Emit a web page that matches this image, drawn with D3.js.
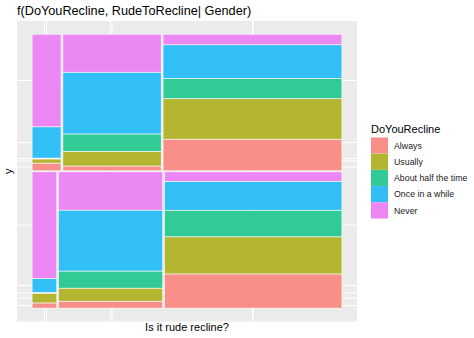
<!DOCTYPE html>
<html>
<head>
<meta charset="utf-8">
<script src="https://cdn.jsdelivr.net/npm/d3@7"></script>
<style>
  body { margin: 0; background: #fff; }
  text { font-family: "Liberation Sans", Arial, sans-serif; }
</style>
</head>
<body>
<svg id="chart" width="474" height="338"></svg>
<script>
// categories
const genders = ["Male", "Female"];              // top row, bottom row
const rudeLevels = ["Yes, very rude", "Yes, somewhat rude", "No, not rude at all"];
const reclineLevels = ["Always", "Usually", "About half the time", "Once in a while", "Never"];
const reclineColors = ["#F8766D", "#A3A500", "#00BF7D", "#00B0F6", "#E76BF3"];

// counts per gender, per rude level, per recline level (Always..Never)
const countsTop = [
  [2, 1, 0, 9, 27],
  [4, 14, 17, 62, 38],
  [57, 74, 36, 61, 18]
];
const countsBottom = [
  [1, 2, 0, 3, 24],
  [6, 12, 16, 59, 37],
  [56, 61, 43, 47, 15]
];
const countsByGender = [countsTop, countsBottom];

const svg = d3.select("#chart");
const panel = {left: 17, right: 357, top: 21, bottom: 321.5};

const x = d3.scaleLinear().domain([-0.05, 1.05]).range([panel.left, panel.right]);
const y = d3.scaleLinear().domain([-0.05, 1.05]).range([panel.bottom, panel.top]);

const colGap = 0.008, rowGap = 0.006, segGap = 0.003;

// build tiles
let tiles = [];
let colCenters = [];
let firstColCenters = [];
const rowH = (1 - rowGap) / 2;
countsByGender.forEach(function(cols, gi) {
  const y1 = gi == 0 ? 1 : rowH;       // top of row
  const y0 = y1 - rowH;
  const totals = cols.map(c => d3.sum(c));
  const grand = d3.sum(totals);
  const usableW = 1 - colGap * (cols.length - 1);
  let cx = 0;
  cols.forEach(function(c, ci) {
    const w = usableW * totals[ci] / grand;
    colCenters.push(cx + w / 2);
    const usableH = rowH - segGap * (c.length - 1);
    let cy = y0;
    c.forEach(function(v, ri) {
      const h = usableH * v / totals[ci];
      tiles.push({gender: genders[gi], rude: rudeLevels[ci], recline: reclineLevels[ri],
                  x0: cx, x1: cx + w, y0: cy, y1: cy + h, color: reclineColors[ri]});
      if (ci == 0) firstColCenters.push(cy + h / 2);
      cy += h + segGap;
    });
    cx += w + colGap;
  });
});

// panel background
svg.append("rect")
  .attr("x", panel.left).attr("y", panel.top)
  .attr("width", panel.right - panel.left).attr("height", panel.bottom - panel.top)
  .attr("fill", "#EBEBEB");

// grid lines
svg.append("g").selectAll("line").data(colCenters).join("line")
  .attr("x1", d => x(d)).attr("x2", d => x(d))
  .attr("y1", panel.top).attr("y2", panel.bottom)
  .attr("stroke", "#fff").attr("stroke-width", 1);
svg.append("g").selectAll("line").data(firstColCenters).join("line")
  .attr("y1", d => y(d)).attr("y2", d => y(d))
  .attr("x1", panel.left).attr("x2", panel.right)
  .attr("stroke", "#fff").attr("stroke-width", 1);

// light backing behind each tile so the gaps look pale
svg.append("g").selectAll("rect").data(tiles).join("rect")
  .attr("x", d => x(d.x0) - 0.6)
  .attr("y", d => y(d.y1) - 0.6)
  .attr("width", d => x(d.x1) - x(d.x0) + 1.2)
  .attr("height", d => Math.max(0, y(d.y0) - y(d.y1)) + 1.2)
  .attr("fill", "#fafafa");

svg.append("g").selectAll("rect").data(tiles).join("rect")
  .attr("x", d => x(d.x0))
  .attr("y", d => y(d.y1))
  .attr("width", d => x(d.x1) - x(d.x0))
  .attr("height", d => Math.max(0, y(d.y0) - y(d.y1)))
  .attr("fill", d => d.color)
  .attr("fill-opacity", 0.8);

// title
svg.append("text").attr("x", 17).attr("y", 14.5)
  .attr("font-size", 12.7).attr("fill", "#000")
  .text("f(DoYouRecline, RudeToRecline| Gender)");

// axis titles
svg.append("text").attr("x", (panel.left + panel.right) / 2).attr("y", 330.5)
  .attr("text-anchor", "middle").attr("font-size", 11).attr("fill", "#000")
  .text("Is it rude recline?");
svg.append("text")
  .attr("transform", "translate(12," + ((panel.top + panel.bottom) / 2) + ") rotate(-90)")
  .attr("text-anchor", "middle").attr("font-size", 11).attr("fill", "#000")
  .text("y");

// legend
const legend = svg.append("g").attr("transform", "translate(371,0)");
legend.append("text").attr("x", 0).attr("y", 132.5)
  .attr("font-size", 11).attr("fill", "#000").text("DoYouRecline");
const keyH = 16.2, keyTop = 137.5;
const keys = legend.selectAll("g.key").data(reclineLevels).join("g")
  .attr("class", "key")
  .attr("transform", (d, i) => "translate(0," + (keyTop + i * keyH) + ")");
keys.append("rect").attr("width", 17).attr("height", keyH).attr("fill", "#F2F2F2");
keys.append("rect").attr("width", 17).attr("height", keyH)
  .attr("fill", (d, i) => reclineColors[i]).attr("fill-opacity", 0.8);
keys.append("text").attr("x", 23).attr("y", keyH / 2 + 3.2)
  .attr("font-size", 8.8).attr("fill", "#1a1a1a").text(d => d);
</script>
</body>
</html>
